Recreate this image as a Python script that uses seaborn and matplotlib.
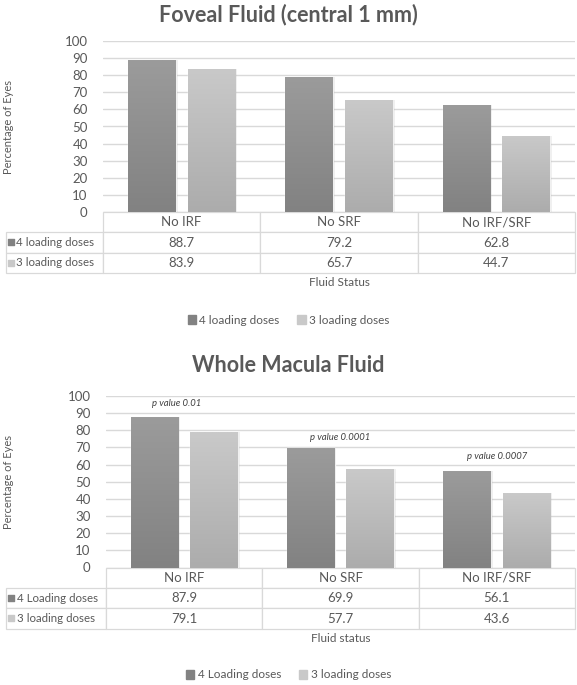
import numpy as np
import pandas as pd
import seaborn as sns
import matplotlib.pyplot as plt
from matplotlib.colors import LinearSegmentedColormap
from matplotlib.patches import Patch

# data
categories = ["No IRF", "No SRF", "No IRF/SRF"]

foveal_groups = ["4 loading doses", "3 loading doses"]
foveal_4 = [88.7, 79.2, 62.8]
foveal_3 = [83.9, 65.7, 44.7]

macula_groups = ["4 Loading doses", "3 loading doses"]
macula_4 = [87.9, 69.9, 56.1]
macula_3 = [79.1, 57.7, 43.6]
macula_pvalues = ["p value 0.01", "p value 0.0001", "p value 0.0007"]

TXT = "#595959"
GRID = "#d9d9d9"
DARK = ("#9b9b9b", "#828282")
LIGHT = ("#c9c9c9", "#acacac")

sns.set_style("white")
plt.rcParams["font.family"] = ["Lato", "DejaVu Sans"]

W, H = 577, 685
fig = plt.figure(figsize=(W / 100, H / 100), dpi=100)


def px_axes(left, right, top, bottom):
    return fig.add_axes([left / W, 1 - bottom / H, (right - left) / W, (bottom - top) / H])


def gradient_bars(ax, bars, colors):
    for patch, (top_c, bot_c) in zip(bars, colors):
        x0, y0 = patch.get_x(), patch.get_y()
        w, h = patch.get_width(), patch.get_height()
        cmap = LinearSegmentedColormap.from_list("g", [bot_c, top_c])
        grad = np.linspace(0, 1, 64).reshape(-1, 1)
        im = ax.imshow(grad, cmap=cmap, origin="lower", aspect="auto",
                       extent=(x0, x0 + w, y0, y0 + h), zorder=3)
        im.set_clip_path(patch)
        # soft shadow
        ax.add_patch(plt.Rectangle((x0 + 0.012, y0), w, h, color="#000000",
                                   alpha=0.06, lw=0, zorder=2.5))


def panel(ax, title, groups, s4, s3, xlabel, title_y, pvals=None):
    df = pd.DataFrame({
        "cat": categories * 2,
        "grp": [groups[0]] * 3 + [groups[1]] * 3,
        "val": s4 + s3,
    })
    sns.barplot(data=df, x="cat", y="val", hue="grp", order=categories,
                hue_order=groups, palette=[DARK[1], LIGHT[1]], width=0.76,
                gap=0.2, ax=ax, legend=False, zorder=2)
    bars = list(ax.patches)
    gradient_bars(ax, bars, [DARK] * 3 + [LIGHT] * 3)

    ax.set_xlim(-0.5, 2.5)
    ax.set_ylim(0, 100)
    ax.set_yticks(range(0, 101, 10))
    ax.grid(axis="y", color=GRID, lw=1, zorder=0)
    ax.set_axisbelow(True)
    for s in ax.spines.values():
        s.set_visible(False)
    ax.tick_params(axis="y", length=0, pad=11, labelsize=9.5, labelcolor=TXT)
    ax.tick_params(axis="x", length=0, labelbottom=False)
    ax.set_xlabel("")
    ax.set_ylabel("Percentage of Eyes", fontsize=8, color=TXT)

    # data table under the axis; row-label column sticks out to the left
    axw = ax.get_position().width * W
    lab_frac = (ax.get_position().x0 * W - 5.5) / axw
    cell_text = [[f"{v}" for v in s4], [f"{v}" for v in s3]]
    tb = ax.table(cellText=cell_text, rowLabels=["   " + g for g in groups],
                  colLabels=categories, cellLoc="center", rowLoc="left",
                  bbox=[0, -0.357, 1, 0.357])
    tb._autoColumns = []
    tb.auto_set_font_size(False)
    for (r, c), cell in tb.get_celld().items():
        cell.set_edgecolor(GRID)
        cell.set_linewidth(0.9)
        cell.set_width(lab_frac if c == -1 else 1 / 3)
        cell.set_height(1)
        cell.get_text().set_color(TXT)
        cell.get_text().set_fontsize(8.3 if c == -1 else 9.5)
        if c == -1:
            cell.PAD = 0.02
    # legend keys inside the row-label cells
    kx = -lab_frac + 5 / axw
    for i, col in enumerate([DARK[1], LIGHT[0]]):
        ax.scatter([kx], [-0.178 - 0.119 * i], marker="s", s=22, color=col,
                   transform=ax.transAxes, clip_on=False, zorder=5)

    ax.text(0.5, -0.415, xlabel, transform=ax.transAxes, ha="center",
            va="center", fontsize=8.5, color=TXT)
    fig.text(0.5, 1 - title_y / H, title, ha="center", va="center",
             fontsize=15.5, fontweight="bold", color=TXT)

    if pvals is not None:
        offs = [7.6, 5.8, 8.5]
        xs = [-0.05, 0, 0]
        for i, p in enumerate(pvals):
            ax.text(i + xs[i], s4[i] + offs[i], p, ha="center", va="center",
                    fontsize=6.8, style="italic", color="#404040")


ax1 = px_axes(103, 575, 41, 212)
panel(ax1, "Foveal Fluid (central 1 mm)", foveal_groups, foveal_4, foveal_3,
      "Fluid Status", 15)
ax1.yaxis.set_label_coords(-(103 - 14) / 472, 0.5)

ax2 = px_axes(106, 575, 396, 567.5)
panel(ax2, "Whole Macula Fluid", macula_groups, macula_4, macula_3,
      "Fluid status", 366, pvals=macula_pvalues)
ax2.yaxis.set_label_coords(-(106 - 14) / 469, 0.5)

for groups, y in [(foveal_groups, 320), (macula_groups, 675)]:
    handles = [Patch(color=DARK[1]), Patch(color=LIGHT[0])]
    fig.legend(handles, groups, loc="center", bbox_to_anchor=(0.5, 1 - y / H),
               ncol=2, frameon=False, fontsize=8.5, labelcolor=TXT,
               handlelength=0.7, handleheight=0.7, handletextpad=0.3,
               columnspacing=1.5)

fig.savefig("out.png", dpi=100)
